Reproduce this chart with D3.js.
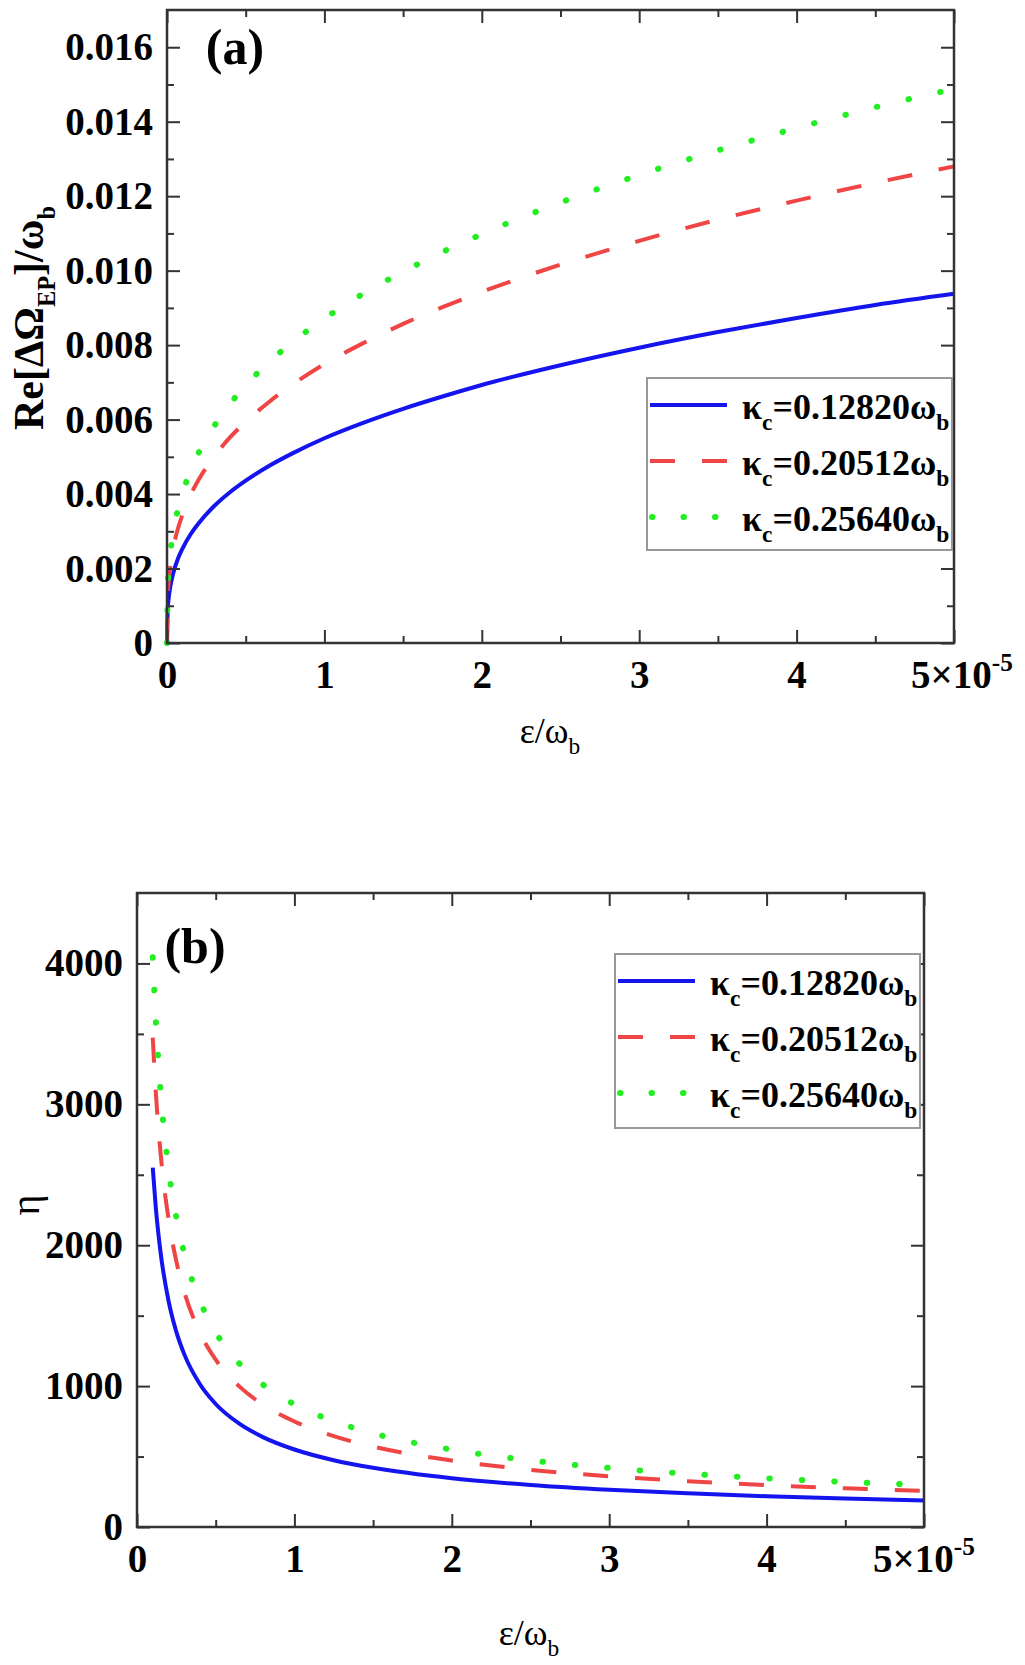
<!DOCTYPE html>
<html>
<head>
<meta charset="utf-8">
<script src="https://cdn.jsdelivr.net/npm/d3@7"></script>
<style>
body{margin:0;background:#fff;}
svg{display:block;font-family:"Liberation Serif","Times New Roman",serif;}
</style>
</head>
<body>
<div id="plot"></div>
<script>
// eps values are in units of 1e-5
let epsA = [0, 0.005, 0.01, 0.02, 0.04, 0.07, 0.1, 0.15, 0.2, 0.3, 0.4, 0.5, 0.65, 0.8, 1, 1.25, 1.5, 1.75, 2, 2.5, 3, 3.5, 4, 4.5, 5];
let blueA = [0, 0.00094, 0.00118, 0.00149, 0.00188, 0.00227, 0.00255, 0.00292, 0.00321, 0.00368, 0.00405, 0.00436, 0.00476, 0.00510, 0.00550, 0.00592, 0.00629, 0.00662, 0.00693, 0.00746, 0.00793, 0.00835, 0.00873, 0.00908, 0.00938];
let redA = [0, 0.00128, 0.00161, 0.00203, 0.00256, 0.00308, 0.00347, 0.00398, 0.00438, 0.00501, 0.00552, 0.00594, 0.00648, 0.00695, 0.00749, 0.00806, 0.00857, 0.00902, 0.00943, 0.01016, 0.01080, 0.01137, 0.01188, 0.01236, 0.01280];
let greenA = [0, 0.00149, 0.00188, 0.00237, 0.00298, 0.00359, 0.00404, 0.00463, 0.00510, 0.00583, 0.00642, 0.00692, 0.00755, 0.00809, 0.00871, 0.00939, 0.00997, 0.01050, 0.01098, 0.01183, 0.01257, 0.01323, 0.01383, 0.01439, 0.01488];

let epsB = [0.1, 0.12, 0.15, 0.2, 0.25, 0.3, 0.4, 0.5, 0.65, 0.8, 1, 1.25, 1.5, 2, 2.5, 3, 3.5, 4, 4.5, 5];
let blueB = [2551, 2260, 1947, 1607, 1385, 1227, 1013, 873, 733, 638, 550, 474, 420, 346, 298, 264, 239, 218, 202, 188];
let redB = [3474, 3077, 2651, 2189, 1886, 1670, 1379, 1188, 998, 869, 749, 645, 571, 472, 406, 360, 325, 297, 275, 256];
let greenB = [4044, 3582, 3086, 2548, 2196, 1944, 1605, 1383, 1161, 1011, 871, 751, 665, 549, 473, 419, 378, 346, 320, 298];

let xTicks = [0, 1, 2, 3, 4, 5];
let xMinor = [0.5, 1.5, 2.5, 3.5, 4.5];
let yTicksA = [0, 0.002, 0.004, 0.006, 0.008, 0.010, 0.012, 0.014, 0.016];
let yMinorA = [0.001, 0.003, 0.005, 0.007, 0.009, 0.011, 0.013, 0.015];
let yTicksB = [0, 1000, 2000, 3000, 4000];
let yMinorB = [500, 1500, 2500, 3500];
let kappaLabels = ['0.12820', '0.20512', '0.25640'];

let styles = [
    {color: '#1414ee', width: 4, dash: null, cap: 'butt'},
    {color: '#f04545', width: 4, dash: '25,27', cap: 'butt'},
    {color: '#22ee22', width: 6, dash: '0.5,32', cap: 'round'}
];

let svg = d3.select('#plot')
            .append('svg')
                .attr('width', 1025)
                .attr('height', 1665);

svg.append('rect').attr('width', 1025).attr('height', 1665).attr('fill', '#fff');

// text with sub/superscripts
function addParts(text, parts, size, small){
    small = small || 0.65;
    let shift = 0;
    parts.forEach(function(p){
        let t = text.append('tspan').text(p[0]);
        let target = p[1] === 'sub' ? size * 0.3 : p[1] === 'sup' ? -size * 0.42 : 0;
        if(target !== shift){
            t.attr('dy', target - shift);
            shift = target;
        }
        if(p[1]) t.attr('font-size', size * small);
    });
}

function drawPanel(o){
    let g = svg.append('g')
        .attr('transform', `translate(${o.left}, ${o.top})`);

    let x = d3.scaleLinear().domain([0, 5]).range([0, o.width]);
    let y = d3.scaleLinear().domain(o.yDomain).range([o.height, 0]);

    let line = d3.line()
        .x(d => x(d[0]))
        .y(d => y(d[1]))
        .curve(d3.curveMonotoneX);

    o.series.forEach(function(s, i){
        let st = styles[i];
        g.append('path')
            .datum(d3.zip(o.eps, s))
            .attr('d', line)
            .attr('fill', 'none')
            .attr('stroke', st.color)
            .attr('stroke-width', st.width)
            .attr('stroke-dasharray', st.dash)
            .attr('stroke-linecap', st.cap);
    });

    // major + minor ticks, inward on every side
    g.append('g')
        .attr('transform', `translate(0,${o.height})`)
        .call(d3.axisBottom(x).tickValues(xTicks).tickSize(-13).tickSizeOuter(0).tickPadding(17)
            .tickFormat(d => d === 5 ? '' : d));
    g.append('g')
        .attr('transform', `translate(0,${o.height})`)
        .call(d3.axisBottom(x).tickValues(xMinor).tickSize(-7).tickSizeOuter(0).tickFormat(''));
    g.append('g')
        .call(d3.axisTop(x).tickValues(xTicks).tickSize(-13).tickSizeOuter(0).tickFormat(''));
    g.append('g')
        .call(d3.axisTop(x).tickValues(xMinor).tickSize(-7).tickSizeOuter(0).tickFormat(''));
    g.append('g')
        .call(d3.axisLeft(y).tickValues(o.yTicks).tickSize(-13).tickSizeOuter(0).tickPadding(14)
            .tickFormat(o.yFormat));
    g.append('g')
        .call(d3.axisLeft(y).tickValues(o.yMinor).tickSize(-7).tickSizeOuter(0).tickFormat(''));
    g.append('g')
        .attr('transform', `translate(${o.width},0)`)
        .call(d3.axisRight(y).tickValues(o.yTicks).tickSize(-13).tickSizeOuter(0).tickFormat(''));
    g.append('g')
        .attr('transform', `translate(${o.width},0)`)
        .call(d3.axisRight(y).tickValues(o.yMinor).tickSize(-7).tickSizeOuter(0).tickFormat(''));

    g.selectAll('.domain').remove();
    g.selectAll('.tick line').attr('stroke', '#333').attr('stroke-width', 2);
    g.selectAll('.tick text')
        .attr('fill', '#000')
        .attr('font-size', 39)
        .attr('font-weight', 'bold')
        .attr('font-family', '"Liberation Serif","Times New Roman",serif');

    // 5x10^-5 label
    let lab = g.append('text')
        .attr('x', x(5) + o.fiveShift)
        .attr('y', o.height + 17)
        .attr('dy', '0.71em')
        .attr('text-anchor', 'middle')
        .attr('font-size', 39)
        .attr('font-weight', 'bold');
    addParts(lab, [['5×10', null], ['-5', 'sup']], 39);

    g.append('rect')
        .attr('width', o.width)
        .attr('height', o.height)
        .attr('fill', 'none')
        .attr('stroke', '#333')
        .attr('stroke-width', 2.5);

    // panel tag
    g.append('text')
        .attr('x', o.tag[1])
        .attr('y', o.tag[2])
        .attr('text-anchor', 'middle')
        .attr('font-size', 50)
        .attr('font-weight', 'bold')
        .text(o.tag[0]);

    // legend
    let lg = o.legend;
    svg.append('rect')
        .attr('x', lg.x).attr('y', lg.y)
        .attr('width', lg.w).attr('height', lg.h)
        .attr('fill', '#fff')
        .attr('stroke', '#999')
        .attr('stroke-width', 2);
    kappaLabels.forEach(function(k, i){
        let st = styles[i];
        let ry = lg.y + 27 + i * 56;
        svg.append('line')
            .attr('x1', lg.x + 3).attr('x2', lg.x + 80)
            .attr('y1', ry).attr('y2', ry)
            .attr('stroke', st.color)
            .attr('stroke-width', st.width)
            .attr('stroke-dasharray', i === 2 ? '0.5,31' : st.dash)
            .attr('stroke-dashoffset', i === 2 ? -2 : 0)
            .attr('stroke-linecap', st.cap);
        let t = svg.append('text')
            .attr('x', lg.x + 95)
            .attr('y', ry + 14)
            .attr('font-size', 36)
            .attr('font-weight', 'bold');
        addParts(t, [['κ', null], ['c', 'sub'], ['=' + k + 'ω', null], ['b', 'sub']], 36);
    });

    // axis titles
    let xt = svg.append('text')
        .attr('x', o.xLabel[0])
        .attr('y', o.xLabel[1])
        .attr('text-anchor', 'middle')
        .attr('font-size', 36);
    addParts(xt, [['ε/ω', null], ['b', 'sub']], 36);

    let yt = svg.append('text')
        .attr('transform', `translate(${o.yLabel[0]},${o.yLabel[1]}) rotate(-90)`)
        .attr('text-anchor', 'middle')
        .attr('dy', o.yLabelDy)
        .attr('font-size', o.yLabelSize)
        .attr('font-weight', o.yLabelWeight);
    addParts(yt, o.yParts, o.yLabelSize, 0.58);
}

drawPanel({
    left: 167, top: 10, width: 787, height: 633,
    yDomain: [0, 0.017],
    yTicks: yTicksA, yMinor: yMinorA,
    yFormat: d => d === 0 ? '0' : d.toFixed(3),
    eps: epsA, series: [blueA, redA, greenA],
    fiveShift: 8,
    tag: ['(a)', 68, 54],
    legend: {x: 647, y: 378, w: 305, h: 172},
    xLabel: [550, 743],
    yLabel: [28, 318], yLabelSize: 42, yLabelWeight: 'bold', yLabelDy: '0.35em',
    yParts: [['Re[ΔΩ', null], ['EP', 'sub'], [']/ω', null], ['b', 'sub']]
});

drawPanel({
    left: 137, top: 893, width: 787, height: 634,
    yDomain: [0, 4500],
    yTicks: yTicksB, yMinor: yMinorB,
    yFormat: d => d,
    eps: epsB, series: [blueB, redB, greenB],
    fiveShift: 0,
    tag: ['(b)', 58, 70],
    legend: {x: 615, y: 954, w: 305, h: 174},
    xLabel: [529, 1645],
    yLabel: [21, 1205], yLabelSize: 40, yLabelWeight: 'normal', yLabelDy: '0.45em',
    yParts: [['η', null]]
});
</script>
</body>
</html>
